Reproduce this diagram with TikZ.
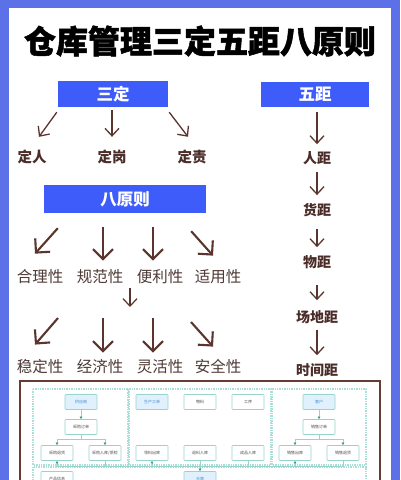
\documentclass[tikz,border=0pt]{standalone}
\usepackage{fontspec}
\usepackage{pdfrender}
\setmainfont{Noto Sans CJK SC}
\newfontfamily\titlefont{Noto Sans CJK SC}[BoldFeatures={FakeBold=1.6}]
\usetikzlibrary{arrows.meta}
\definecolor{frameblue}{RGB}{92,112,232}
\definecolor{boxblue}{RGB}{62,92,250}
\definecolor{labbrown}{RGB}{74,44,40}
\definecolor{prinbrown}{RGB}{78,58,54}
\definecolor{arrbrown}{RGB}{92,52,46}
\definecolor{titlegray}{RGB}{130,130,130}
\definecolor{tealb}{RGB}{150,212,204}
\definecolor{tealp}{RGB}{170,222,214}
\definecolor{tealarr}{RGB}{40,160,150}
\definecolor{lightblue}{RGB}{224,240,252}
\definecolor{linkblue}{RGB}{70,140,210}
\definecolor{imgbrown}{RGB}{100,60,50}
\begin{document}
\begin{tikzpicture}[x=1pt,y=-1pt,
  bluebox/.style={fill=boxblue,text=white,inner sep=0,font=\fontsize{16.5}{16.5}\selectfont\bfseries},
  lab/.style={text=labbrown,inner sep=0,font=\fontsize{14.5}{14.5}\selectfont\bfseries},
  prin/.style={text=prinbrown,inner sep=0,font=\fontsize{15.5}{15.5}\selectfont},
  arrS/.style={draw=arrbrown,line width=1.3,-{Straight Barb[length=7.5pt,width=14pt]}},
  arrL/.style={draw=arrbrown,line width=2.1,-{Straight Barb[length=10pt,width=20pt]}},
  fbox/.style={draw=tealb,fill=white,line width=0.6,minimum width=32,minimum height=15,inner sep=0,
    font=\fontsize{4}{4}\selectfont,text=black!70,rounded corners=0.8},
  fboxf/.style={fbox,fill=lightblue,text=linkblue},
  panel/.style={draw=tealp,densely dotted,line width=1.4},
  fedge/.style={draw=tealb,line width=0.7},
  farr/.style={fedge,-{Triangle[length=2.6pt,width=2.6pt,color=tealarr]}}
]
\useasboundingbox (0,0) rectangle (400,480);
\fill[frameblue] (0,0) rectangle (400,480);
\fill[white] (9,8) rectangle (391,480);

% title
\node[inner sep=0,font=\fontsize{32}{32}\titlefont\bfseries] (title) at (200,41)
  {\textpdfrender{TextRenderingMode=FillStroke,LineWidth=1.3,StrokeColor=titlegray,FillColor=black}{仓库管理三定五距八原则}};

% three fixes
\node[bluebox,minimum width=110,minimum height=26] (sanding) at (113,94) {三定};
\node[lab] (dingren) at (32,157) {定人};
\node[lab] (dinggang) at (112,157) {定岗};
\node[lab] (dingze) at (192,157) {定责};
\draw[arrS] ([shift={(-1,5)}]sanding.south west) -- ([shift={(7,-13)}]dingren.north);
\draw[arrS] ([shift={(-1,3)}]sanding.south) -- ([shift={(0,-13)}]dinggang.north);
\draw[arrS] ([shift={(1,5)}]sanding.south east) -- ([shift={(-4,-13)}]dingze.north);

% five distances
\node[bluebox,minimum width=108,minimum height=25] (wuju) at (315,94) {五距};
\node[lab,font=\fontsize{14}{14}\selectfont\bfseries] (renju) at (317,158) {人距};
\node[lab,font=\fontsize{14}{14}\selectfont\bfseries] (huoju) at (317,210) {货距};
\node[lab,font=\fontsize{14}{14}\selectfont\bfseries] (wuju2) at (317,262) {物距};
\node[lab,font=\fontsize{14}{14}\selectfont\bfseries] (changdi) at (317,317) {场地距};
\node[lab,font=\fontsize{14}{14}\selectfont\bfseries] (shijian) at (317,370) {时间距};
\draw[arrS] ([shift={(2,5.5)}]wuju.south) -- ([shift={(0,-7)}]renju.north);
\draw[arrS,shorten <=7pt,shorten >=8pt] (renju) -- (huoju);
\draw[arrS,shorten <=12pt,shorten >=8pt] (huoju) -- (wuju2);
\draw[arrS,shorten <=16pt,shorten >=10pt] (wuju2) -- (changdi);
\draw[arrS,shorten <=6pt,shorten >=8pt] (changdi) -- (shijian);

% eight principles
\node[bluebox,minimum width=162,minimum height=28] (bayuanze) at (125,199) {八原则};
\node[prin] (heli) at (40,277) {合理性};
\node[prin] (guifan) at (100,277) {规范性};
\node[prin] (bianli) at (160,277) {便利性};
\node[prin] (shiyong) at (218,277) {适用性};
\draw[arrL] ([shift={(14,15)}]bayuanze.south west) -- ([shift={(-5,-16)}]heli.north);
\draw[arrL] ([shift={(-22,14)}]bayuanze.south) -- ([shift={(3,-9)}]guifan.north);
\draw[arrL] ([shift={(28,14)}]bayuanze.south) -- ([shift={(-7,-9)}]bianli.north);
\draw[arrL] ([shift={(-15,18)}]bayuanze.south east) -- ([shift={(-5,-14)}]shiyong.north);

\coordinate (mida) at (130,288);
\coordinate (midb) at (130,307);
\draw[arrS,line width=1.2] (mida) -- (midb);

\node[prin] (wending) at (40,367) {稳定性};
\node[prin] (jingji) at (100,367) {经济性};
\node[prin] (linghuo) at (160,367) {灵活性};
\node[prin] (anquan) at (218,367) {安全性};
\coordinate (sa) at (58,318);
\coordinate (sb) at (103,318);
\coordinate (sc) at (153,318);
\coordinate (sd) at (191,322);
\draw[arrL] (sa) -- ([shift={(-5,-15)}]wending.north);
\draw[arrL] (sb) -- ([shift={(3,-7)}]jingji.north);
\draw[arrL] (sc) -- ([shift={(-7,-7)}]linghuo.north);
\draw[arrL] (sd) -- ([shift={(-5,-13)}]anquan.north);

% embedded flowchart image
\draw[imgbrown,line width=1.2,fill=white] (20,381) rectangle (380,495);
\draw[panel] (33,389) rectangle (128,465);
\draw[panel] (129,389) rectangle (271,465);
\draw[panel] (272,389) rectangle (366,465);
\draw[panel] (33,467) rectangle (366,495);

\node[fboxf] (gys) at (81,402) {供应商};
\node[fbox] (cgdd) at (81,427) {采购订单};
\node[fbox] (cgth) at (57,453) {采购退货};
\node[fbox] (cgrk) at (105,453) {采购入库/质检};
\node[fboxf] (scgd) at (152,402) {生产工单};
\node[fbox] (wl) at (200,402) {物料};
\node[fbox] (gx) at (248,402) {工序};
\node[fbox] (llck) at (152,453) {领料出库};
\node[fbox] (tlrk) at (200,453) {退料入库};
\node[fbox] (cprk) at (248,453) {成品入库};
\node[fboxf] (kh) at (319,402) {客户};
\node[fbox] (xsdd) at (319,427) {销售订单};
\node[fbox] (xsck) at (295,453) {销售出库};
\node[fbox] (xsth) at (343,453) {销售退货};
\node[fbox] (cpxx) at (57,479) {产品信息};
\node[fboxf] (ck) at (200,479) {仓库};

\draw[farr] (gys) -- (cgdd);
\draw[farr] (cgdd.south) -- ++(0,5) -| (cgth.north);
\draw[farr] (cgdd.south) -- ++(0,5) -| (cgrk.north);
\draw[farr] (kh) -- (xsdd);
\draw[farr] (xsdd.south) -- ++(0,5) -| (xsck.north);
\draw[farr] (xsdd.south) -- ++(0,5) -| (xsth.north);

\coordinate (busl) at (57,466);
\coordinate (busr) at (343,466);
\draw[fedge] (busl) -- (busr);
\draw[farr] (57,466) -- (cgth.south);
\draw[fedge] (cgrk.south) -- (105,466);
\draw[farr] (152,466) -- (llck.south);
\draw[farr] (tlrk.south) -- (ck.north);
\draw[fedge] (cprk.south) -- (248,466);
\draw[farr] (295,466) -- (xsck.south);
\draw[fedge] (xsth.south) -- (343,466);
\end{tikzpicture}
\end{document}
